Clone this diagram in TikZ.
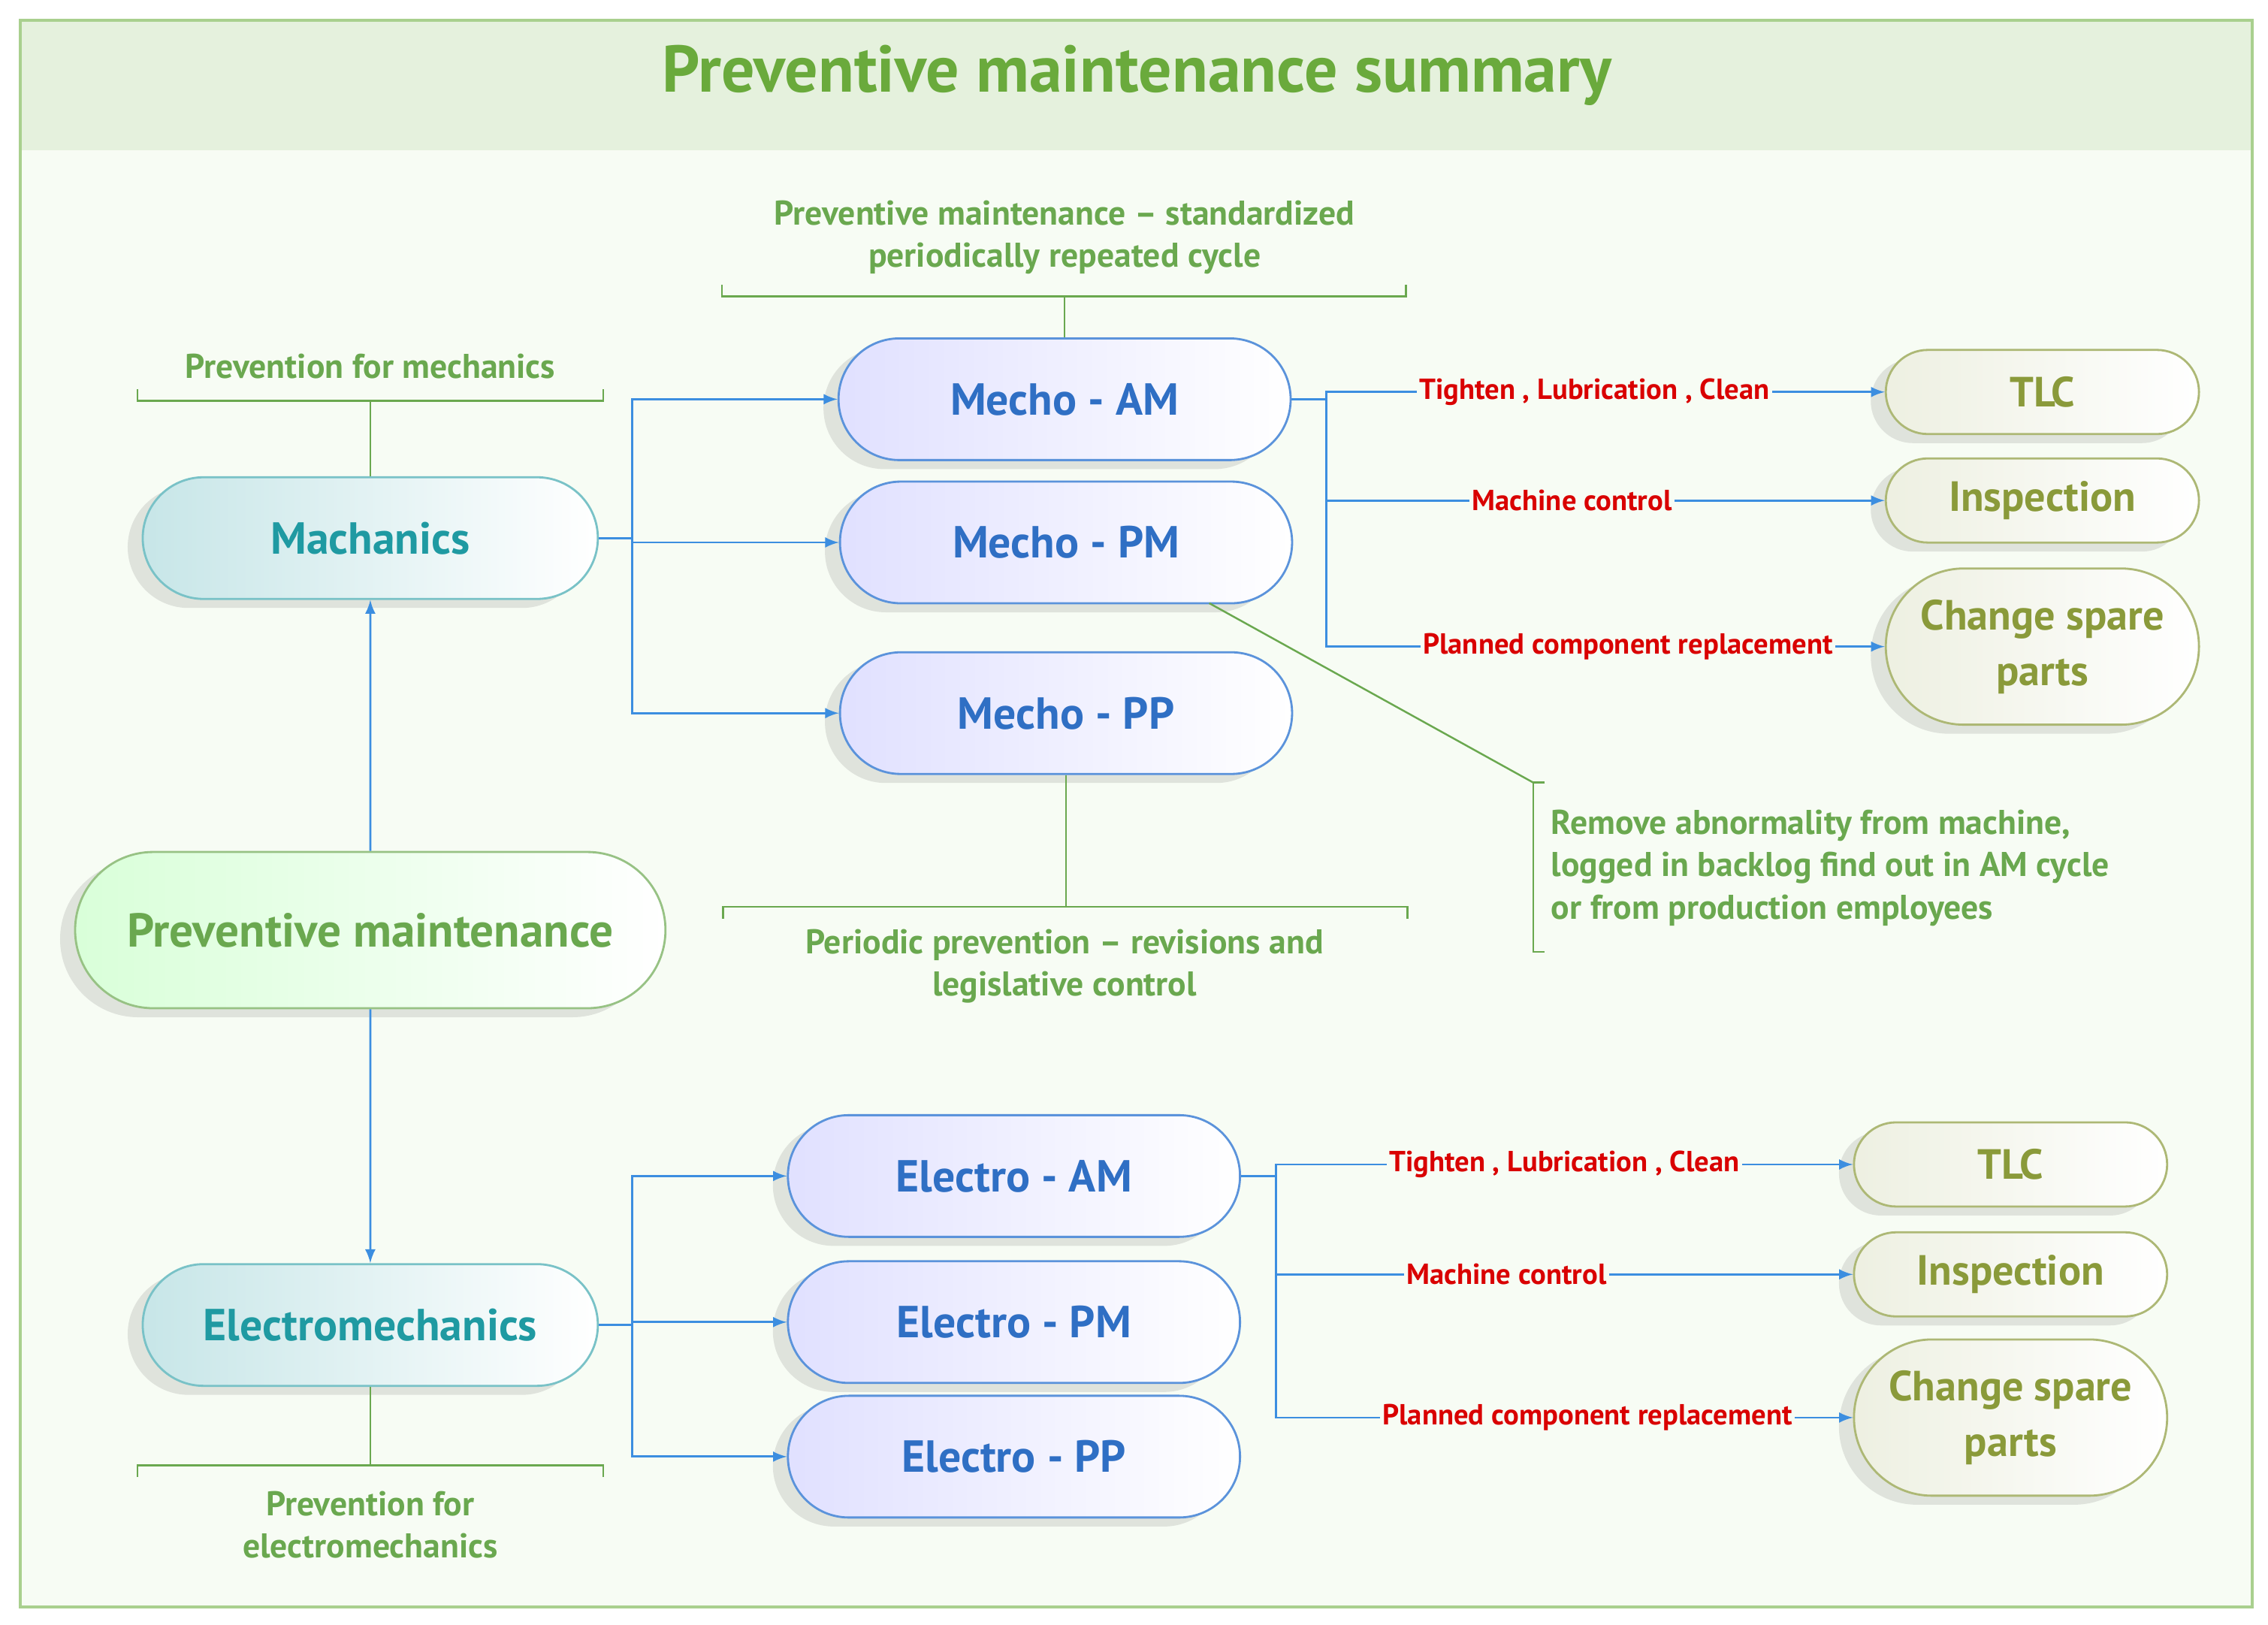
\documentclass[tikz,border=0pt]{standalone}
\usepackage{fontspec}
\setmainfont{PT Sans}
\usetikzlibrary{shapes.misc,shadows,positioning}
\definecolor{frameg}{HTML}{A9D08E}
\definecolor{titleg}{HTML}{6AAA3C}
\definecolor{txtg}{HTML}{6AA84F}
\definecolor{olive}{HTML}{8A9A3A}
\definecolor{bluet}{HTML}{2F6FC4}
\definecolor{bluel}{HTML}{5B93DB}
\definecolor{tealt}{HTML}{1F9AA2}
\definecolor{lnk}{HTML}{3C8EE0}
\definecolor{bgp}{HTML}{F7FCF4}
\begin{document}
\begin{tikzpicture}[x=0.01925cm,y=-0.01925cm,font=\bfseries, >=latex]
\tikzset{
  pill/.style={rounded rectangle, draw, line width=0.8pt, inner xsep=2pt, drop shadow={shadow xshift=-0.2cm,shadow yshift=-0.12cm,opacity=0.2}},
  mecho/.style={pill, draw=bluel, left color=blue!12, right color=white, text=bluet,
     minimum width=6.16cm, minimum height=1.62cm, font=\bfseries\fontsize{17}{20}\selectfont},
  branch/.style={pill, draw=tealt!60, left color=tealt!25, right color=white, text=tealt,
     minimum width=6.2cm, minimum height=1.62cm, font=\bfseries\fontsize{17}{20}\selectfont},
  task/.style={pill, draw=olive!70, left color=olive!15, right color=white, text=olive,
     minimum width=4.31cm, minimum height=1.12cm, align=center, font=\bfseries\fontsize{16}{19}\selectfont},
  note/.style={text=txtg, align=center, font=\bfseries\fontsize{13}{16}\selectfont},
  tag/.style={text=red!85!black, fill=bgp, inner sep=1pt, font=\bfseries\fontsize{11}{13}\selectfont},
  link/.style={draw=lnk, line width=0.8pt},
  brk/.style={draw=txtg, line width=0.7pt},
}
\useasboundingbox (0,0) rectangle (1568,1123);
% frame and title
\fill[bgp] (14,14) rectangle (1557,1111);
\fill[frameg!30] (14,14) rectangle (1557,104);
\draw[frameg, line width=1pt] (14,14) rectangle (1557,1111);
\node[text=titleg, font=\bfseries\fontsize{25}{28}\selectfont] (title) at (786,52) {Preventive maintenance summary};

% main nodes
\node[pill, draw=txtg!70, left color=green!15, right color=white, text=txtg,
  minimum width=8cm, minimum height=2.08cm, font=\bfseries\fontsize{18}{22}\selectfont] (pm) at (256,643) {Preventive maintenance};
\node[branch] (mech) at (256,372) {Machanics};
\node[branch] (elec) at (256,916) {Electromechanics};

\node[mecho] (mam) at (736,276) {Mecho - AM};
\node[mecho] (mpm) at (737,375) {Mecho - PM};
\node[mecho] (mpp) at (737,493) {Mecho - PP};
\node[mecho] (eam) at (701,813) {Electro - AM};
\node[mecho] (epm) at (701,914) {Electro - PM};
\node[mecho] (epp) at (701,1007) {Electro - PP};

\node[task] (tlc1) at (1412,271) {TLC};
\node[task] (ins1) at (1412,346) {Inspection};
\node[task, minimum height=2.08cm] (csp1) at (1412,447) {Change spare\\[2pt]parts};
\node[task] (tlc2) at (1390,805) {TLC};
\node[task] (ins2) at (1390,881) {Inspection};
\node[task, minimum height=2.08cm] (csp2) at (1390,980) {Change spare\\[2pt]parts};

% connectors
\draw[link,->] (pm) -- (mech);
\draw[link,->] (pm) -- (elec);
\coordinate (jm) at (437,372);
\coordinate (je) at (437,916);
\draw[link] (mech.east) -- (jm);
\draw[link] (elec.east) -- (je);
\draw[link,->] (jm) |- (mam.west);
\draw[link,->] (jm) |- (mpm.west);
\draw[link,->] (jm) |- (mpp.west);
\draw[link,->] (je) |- (eam.west);
\draw[link,->] (je) |- (epm.west);
\draw[link,->] (je) |- (epp.west);

\coordinate (ja) at (917,276);
\coordinate (jb) at (882,813);
\draw[link] (mam.east) -- (ja);
\draw[link] (eam.east) -- (jb);
\draw[link,->] (ja) |- node[tag, pos=0.74] {Tighten , Lubrication , Clean} (tlc1.west);
\draw[link,->] (ja) |- node[tag, pos=0.72] {Machine control} (ins1.west);
\draw[link,->] (ja) |- node[tag, pos=0.77] {Planned component replacement} (csp1.west);
\draw[link,->] (jb) |- node[tag, pos=0.75] {Tighten , Lubrication , Clean} (tlc2.west);
\draw[link,->] (jb) |- node[tag, pos=0.7] {Machine control} (ins2.west);
\draw[link,->] (jb) |- node[tag, pos=0.77] {Planned component replacement} (csp2.west);

% brackets and notes
\node[note] (n1) at (736,164) {Preventive maintenance -- standardized\\periodically repeated cycle};
\draw[brk] (499,197) |- (972,205) -- (972,197);
\draw[brk] (736,205) -- (mam.north);
\node[note] (n2) at (256,253) {Prevention for mechanics};
\draw[brk] (95,269) |- (417,277) -- (417,269);
\draw[brk] (256,277) -- (mech.north);
\node[note] (n3) at (736,668) {Periodic prevention -- revisions and\\legislative control};
\draw[brk] (500,635) |- (973,627) -- (973,635);
\draw[brk] (mpp.south) -- (737,627);
\node[note] (n4) at (256,1054) {Prevention for\\electromechanics};
\draw[brk] (95,1021) |- (417,1013) -- (417,1021);
\draw[brk] (elec.south) -- (256,1013);
\node[note, align=left, anchor=west] (n5) at (1066,600) {Remove abnormality from machine,\\logged in backlog find out in AM cycle\\or from production employees};
\coordinate (cb) at (1060,541);
\draw[brk] (836,417) -- (cb);
\draw[brk] (1068,541) -| (1060,658) -- (1068,658);
\end{tikzpicture}
\end{document}
